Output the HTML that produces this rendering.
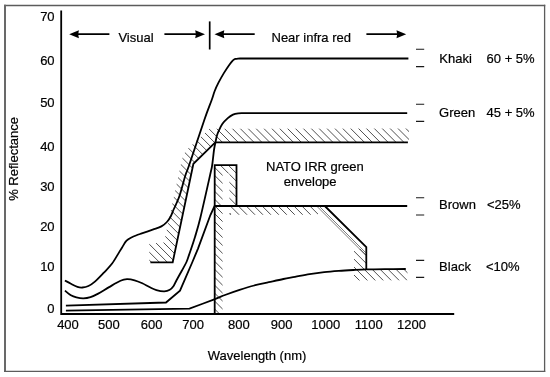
<!DOCTYPE html>
<html><head><meta charset="utf-8"><title>Reflectance chart</title>
<style>html,body{margin:0;padding:0;background:#fff;}svg{display:block;}</style>
</head><body>
<svg width="550" height="377" viewBox="0 0 550 377">
<defs><clipPath id="hc0"><path d="M149.30 262.30 L149.30 243.50 L164.00 242.50 L180.70 165.00 L183.00 156.00 L186.00 150.50 L207.00 131.00 L218.20 142.20 L215.30 142.20 L193.40 163.80 L172.70 262.30 Z"/></clipPath>
<clipPath id="hc1"><path d="M207.00 131.00 L209.40 128.80 L409.00 128.60 L409.00 142.20 L218.20 142.20 Z"/></clipPath>
<clipPath id="hc2"><path d="M215.00 165.00 L222.60 165.00 L222.60 206.00 L215.00 206.00 Z M215.00 165.00 L236.50 165.00 L236.50 173.60 L215.00 173.60 Z M229.40 165.00 L236.50 165.00 L236.50 206.00 L229.40 206.00 Z"/></clipPath>
<clipPath id="hc3"><path d="M215.00 206.00 L222.60 206.00 L222.60 314.00 L215.00 314.00 Z"/></clipPath>
<clipPath id="hc4"><path d="M228.00 206.00 L318.00 206.00 L318.00 214.70 L236.70 214.70 Z"/></clipPath>
<clipPath id="hc5"><path d="M354.00 249.00 L366.00 249.00 L366.00 270.00 L354.00 270.00 Z M354.00 270.00 L407.50 269.00 L407.50 280.20 L354.00 280.60 Z"/></clipPath></defs>
<rect x="0" y="0" width="550" height="377" fill="#fff"/>
<g stroke="#5c5c5c" fill="none">
<line x1="4" y1="5.4" x2="545.25" y2="5.4" stroke-width="1.45"/>
<line x1="5" y1="4.7" x2="5" y2="372" stroke-width="2" stroke="#696969"/>
<line x1="544.6" y1="4.7" x2="544.6" y2="372" stroke-width="1.3"/>
<line x1="4" y1="371.35" x2="545.25" y2="371.35" stroke-width="1.25"/>
</g>

<g stroke="#303030" stroke-width="0.85" fill="none">
<g clip-path="url(#hc0)"><line x1="148.30" y1="60.35" x2="219.20" y2="131.25"/><line x1="148.30" y1="68.30" x2="219.20" y2="139.20"/><line x1="148.30" y1="76.25" x2="219.20" y2="147.15"/><line x1="148.30" y1="84.20" x2="219.20" y2="155.10"/><line x1="148.30" y1="92.15" x2="219.20" y2="163.05"/><line x1="148.30" y1="100.10" x2="219.20" y2="171.00"/><line x1="148.30" y1="108.05" x2="219.20" y2="178.95"/><line x1="148.30" y1="116.00" x2="219.20" y2="186.90"/><line x1="148.30" y1="123.95" x2="219.20" y2="194.85"/><line x1="148.30" y1="131.90" x2="219.20" y2="202.80"/><line x1="148.30" y1="139.85" x2="219.20" y2="210.75"/><line x1="148.30" y1="147.80" x2="219.20" y2="218.70"/><line x1="148.30" y1="155.75" x2="219.20" y2="226.65"/><line x1="148.30" y1="163.70" x2="219.20" y2="234.60"/><line x1="148.30" y1="171.65" x2="219.20" y2="242.55"/><line x1="148.30" y1="179.60" x2="219.20" y2="250.50"/><line x1="148.30" y1="187.55" x2="219.20" y2="258.45"/><line x1="148.30" y1="195.50" x2="219.20" y2="266.40"/><line x1="148.30" y1="203.45" x2="219.20" y2="274.35"/><line x1="148.30" y1="211.40" x2="219.20" y2="282.30"/><line x1="148.30" y1="219.35" x2="219.20" y2="290.25"/><line x1="148.30" y1="227.30" x2="219.20" y2="298.20"/><line x1="148.30" y1="235.25" x2="219.20" y2="306.15"/><line x1="148.30" y1="243.20" x2="219.20" y2="314.10"/><line x1="148.30" y1="251.15" x2="219.20" y2="322.05"/><line x1="148.30" y1="259.10" x2="219.20" y2="330.00"/></g>
<g clip-path="url(#hc1)"><line x1="206.00" y1="-71.37" x2="410.00" y2="132.63"/><line x1="206.00" y1="-63.48" x2="410.00" y2="140.52"/><line x1="206.00" y1="-55.59" x2="410.00" y2="148.41"/><line x1="206.00" y1="-47.70" x2="410.00" y2="156.30"/><line x1="206.00" y1="-39.81" x2="410.00" y2="164.19"/><line x1="206.00" y1="-31.92" x2="410.00" y2="172.08"/><line x1="206.00" y1="-24.03" x2="410.00" y2="179.97"/><line x1="206.00" y1="-16.14" x2="410.00" y2="187.86"/><line x1="206.00" y1="-8.25" x2="410.00" y2="195.75"/><line x1="206.00" y1="-0.36" x2="410.00" y2="203.64"/><line x1="206.00" y1="7.53" x2="410.00" y2="211.53"/><line x1="206.00" y1="15.42" x2="410.00" y2="219.42"/><line x1="206.00" y1="23.31" x2="410.00" y2="227.31"/><line x1="206.00" y1="31.20" x2="410.00" y2="235.20"/><line x1="206.00" y1="39.09" x2="410.00" y2="243.09"/><line x1="206.00" y1="46.98" x2="410.00" y2="250.98"/><line x1="206.00" y1="54.87" x2="410.00" y2="258.87"/><line x1="206.00" y1="62.76" x2="410.00" y2="266.76"/><line x1="206.00" y1="70.65" x2="410.00" y2="274.65"/><line x1="206.00" y1="78.54" x2="410.00" y2="282.54"/><line x1="206.00" y1="86.43" x2="410.00" y2="290.43"/><line x1="206.00" y1="94.32" x2="410.00" y2="298.32"/><line x1="206.00" y1="102.21" x2="410.00" y2="306.21"/><line x1="206.00" y1="110.10" x2="410.00" y2="314.10"/><line x1="206.00" y1="117.99" x2="410.00" y2="321.99"/><line x1="206.00" y1="125.88" x2="410.00" y2="329.88"/><line x1="206.00" y1="133.77" x2="410.00" y2="337.77"/><line x1="206.00" y1="141.66" x2="410.00" y2="345.66"/></g>
<g clip-path="url(#hc2)"><line x1="214.00" y1="142.95" x2="237.50" y2="166.45"/><line x1="214.00" y1="150.90" x2="237.50" y2="174.40"/><line x1="214.00" y1="158.85" x2="237.50" y2="182.35"/><line x1="214.00" y1="166.80" x2="237.50" y2="190.30"/><line x1="214.00" y1="174.75" x2="237.50" y2="198.25"/><line x1="214.00" y1="182.70" x2="237.50" y2="206.20"/><line x1="214.00" y1="190.65" x2="237.50" y2="214.15"/><line x1="214.00" y1="198.60" x2="237.50" y2="222.10"/></g>
<g clip-path="url(#hc3)"><line x1="214.00" y1="197.10" x2="223.60" y2="206.70"/><line x1="214.00" y1="205.05" x2="223.60" y2="214.65"/><line x1="214.00" y1="213.00" x2="223.60" y2="222.60"/><line x1="214.00" y1="220.95" x2="223.60" y2="230.55"/><line x1="214.00" y1="228.90" x2="223.60" y2="238.50"/><line x1="214.00" y1="236.85" x2="223.60" y2="246.45"/><line x1="214.00" y1="244.80" x2="223.60" y2="254.40"/><line x1="214.00" y1="252.75" x2="223.60" y2="262.35"/><line x1="214.00" y1="260.70" x2="223.60" y2="270.30"/><line x1="214.00" y1="268.65" x2="223.60" y2="278.25"/><line x1="214.00" y1="276.60" x2="223.60" y2="286.20"/><line x1="214.00" y1="284.55" x2="223.60" y2="294.15"/><line x1="214.00" y1="292.50" x2="223.60" y2="302.10"/><line x1="214.00" y1="300.45" x2="223.60" y2="310.05"/><line x1="214.00" y1="308.40" x2="223.60" y2="318.00"/></g>
<g clip-path="url(#hc4)"><line x1="227.00" y1="115.20" x2="319.00" y2="207.20"/><line x1="227.00" y1="123.15" x2="319.00" y2="215.15"/><line x1="227.00" y1="131.10" x2="319.00" y2="223.10"/><line x1="227.00" y1="139.05" x2="319.00" y2="231.05"/><line x1="227.00" y1="147.00" x2="319.00" y2="239.00"/><line x1="227.00" y1="154.95" x2="319.00" y2="246.95"/><line x1="227.00" y1="162.90" x2="319.00" y2="254.90"/><line x1="227.00" y1="170.85" x2="319.00" y2="262.85"/><line x1="227.00" y1="178.80" x2="319.00" y2="270.80"/><line x1="227.00" y1="186.75" x2="319.00" y2="278.75"/><line x1="227.00" y1="194.70" x2="319.00" y2="286.70"/><line x1="227.00" y1="202.65" x2="319.00" y2="294.65"/><line x1="227.00" y1="210.60" x2="319.00" y2="302.60"/></g>
<g clip-path="url(#hc5)"><line x1="353.00" y1="194.50" x2="408.50" y2="250.00"/><line x1="353.00" y1="202.45" x2="408.50" y2="257.95"/><line x1="353.00" y1="210.40" x2="408.50" y2="265.90"/><line x1="353.00" y1="218.35" x2="408.50" y2="273.85"/><line x1="353.00" y1="226.30" x2="408.50" y2="281.80"/><line x1="353.00" y1="234.25" x2="408.50" y2="289.75"/><line x1="353.00" y1="242.20" x2="408.50" y2="297.70"/><line x1="353.00" y1="250.15" x2="408.50" y2="305.65"/><line x1="353.00" y1="258.10" x2="408.50" y2="313.60"/><line x1="353.00" y1="266.05" x2="408.50" y2="321.55"/><line x1="353.00" y1="274.00" x2="408.50" y2="329.50"/></g>
</g>
<g stroke="#444" stroke-width="0.7" fill="none">
<line x1="229.6" y1="213.3" x2="230.8" y2="214.5" stroke-width="1.2"/>
<line x1="317.6" y1="207" x2="365.6" y2="255"/>
<line x1="320" y1="207" x2="365.6" y2="252.6"/>
</g>
<g fill="none" stroke="#000" stroke-width="1.8" stroke-linejoin="miter">
<path d="M61.2 10.6 V314 H454.2"/>
<path d="M64.90 280.50 C65.90 281.05 68.82 282.73 70.90 283.80 C72.98 284.87 75.48 286.28 77.40 286.90 C79.32 287.52 80.57 287.65 82.40 287.50 C84.23 287.35 86.32 286.98 88.40 286.00 C90.48 285.02 92.37 283.78 94.90 281.60 C97.43 279.42 100.77 275.87 103.60 272.90 C106.43 269.93 109.30 267.27 111.90 263.80 C114.50 260.33 117.42 254.97 119.20 252.10 C120.98 249.23 121.55 248.30 122.60 246.60 C123.65 244.90 124.60 243.08 125.50 241.90 C126.40 240.72 127.10 240.18 128.00 239.50 C128.90 238.82 129.57 238.47 130.90 237.80 C132.23 237.13 134.18 236.23 136.00 235.50 C137.82 234.77 139.02 234.38 141.80 233.40 C144.58 232.42 149.43 230.77 152.70 229.60 C155.97 228.43 159.03 227.67 161.40 226.40 C163.77 225.13 165.35 223.65 166.90 222.00 C168.45 220.35 169.62 218.50 170.70 216.50 C171.78 214.50 172.52 212.03 173.40 210.00 C174.28 207.97 174.93 206.80 176.00 204.30 C177.07 201.80 178.22 199.88 179.80 195.00 C181.38 190.12 183.93 180.00 185.50 175.00 C187.07 170.00 186.07 174.17 189.20 165.00 C192.33 155.83 200.58 130.75 204.30 120.00 C208.02 109.25 209.77 105.33 211.50 100.50 C213.23 95.67 213.53 93.97 214.70 91.00 C215.87 88.03 216.95 85.72 218.50 82.70 C220.05 79.68 222.18 75.90 224.00 72.90 C225.82 69.90 227.95 66.75 229.40 64.70 C230.85 62.65 231.93 61.45 232.70 60.60 C233.47 59.75 233.55 59.88 234.00 59.60 C234.45 59.33 234.73 59.12 235.40 58.95 C236.07 58.78 237.07 58.62 238.00 58.55 C238.93 58.47 240.50 58.51 241.00 58.50 L408.4 58.5"/>
<path d="M64.90 290.60 C65.90 291.38 68.98 294.17 70.90 295.30 C72.82 296.43 74.32 296.90 76.40 297.40 C78.48 297.90 81.05 298.35 83.40 298.30 C85.75 298.25 88.03 297.88 90.50 297.10 C92.97 296.32 95.10 295.27 98.20 293.60 C101.30 291.93 105.38 289.23 109.10 287.10 C112.82 284.97 117.52 282.12 120.50 280.80 C123.48 279.48 124.65 279.28 127.00 279.20 C129.35 279.12 132.05 279.62 134.60 280.30 C137.15 280.98 139.75 282.13 142.30 283.30 C144.85 284.47 147.55 286.17 149.90 287.30 C152.25 288.43 154.00 289.43 156.40 290.10 C158.80 290.77 162.07 291.35 164.30 291.30 C166.53 291.25 168.25 290.68 169.80 289.80 C171.35 288.92 172.50 287.55 173.60 286.00 C174.70 284.45 175.03 283.05 176.40 280.50 C177.77 277.95 180.12 273.78 181.80 270.70 C183.48 267.62 185.27 264.72 186.50 262.00 C187.73 259.28 187.78 258.58 189.20 254.40 C190.62 250.22 193.15 242.97 195.00 236.90 C196.85 230.83 197.78 228.32 200.30 218.00 C202.82 207.68 208.12 183.83 210.10 175.00 C212.08 166.17 211.55 169.17 212.20 165.00 C212.85 160.83 213.45 153.80 214.00 150.00 C214.55 146.20 215.03 144.53 215.50 142.20 C215.97 139.87 216.32 137.77 216.80 136.00 C217.28 134.23 217.48 133.60 218.40 131.60 C219.32 129.60 220.73 126.25 222.30 124.00 C223.87 121.75 226.02 119.67 227.80 118.10 C229.58 116.53 231.23 115.40 233.00 114.60 C234.77 113.80 236.73 113.54 238.40 113.30 C240.07 113.06 242.23 113.18 243.00 113.15 L407.2 113.15"/>
<path d="M65.90 305.60 L166.00 302.50 L180.00 290.60 L192.40 262.00 L198.00 248.60 L210.40 215.00 L214.60 206.00 L407.20 206.00"/>
<path d="M65.9 310.7 L189.5 308.7 C193.63 307.13 208.38 301.58 214.30 299.30 C220.22 297.02 220.78 296.57 225.00 295.00 C229.22 293.43 234.73 291.48 239.60 289.90 C244.47 288.32 249.33 286.78 254.20 285.50 C259.07 284.22 263.93 283.28 268.80 282.20 C273.67 281.12 279.03 279.88 283.40 279.00 C287.77 278.12 290.63 277.70 295.00 276.90 C299.37 276.10 304.73 274.98 309.60 274.20 C314.47 273.42 319.33 272.75 324.20 272.20 C329.07 271.65 333.93 271.27 338.80 270.90 C343.67 270.53 348.78 270.25 353.40 270.00 C358.02 269.75 361.23 269.55 366.50 269.40 C371.77 269.25 378.45 269.17 385.00 269.10 C391.55 269.03 402.33 269.02 405.80 269.00"/>
<path d="M150.4 262.3 H172.7 L193.4 163.8 L215.3 142.45 H407.9"/>
<path d="M214.7 314 V165.2 H236.5 V206"/>
<path d="M324.8 206 L366.3 247.2 V269.8"/>
<line x1="209.7" y1="21.4" x2="209.7" y2="49.5" stroke-width="1.7"/>
<line x1="75" y1="34.2" x2="109.4" y2="34.2"/>
<line x1="164.4" y1="34.2" x2="198" y2="34.2"/>
<line x1="221" y1="34.2" x2="254.7" y2="34.2"/>
<line x1="366.4" y1="34.2" x2="400" y2="34.2"/>
</g>
<g fill="#000">
<path d="M69.2 34.2 L78.9 30.15 L78.2 34.2 L78.9 38.25 Z"/>
<path d="M205 34.2 L195.2 30.15 L195.9 34.2 L195.2 38.25 Z"/>
<path d="M214.5 34.2 L224.3 30.15 L223.6 34.2 L224.3 38.25 Z"/>
<path d="M406.2 34.2 L396.5 30.15 L397.2 34.2 L396.5 38.25 Z"/>
</g>
<g stroke="#1a1a1a" stroke-width="1.1" fill="none">
<path d="M416 49.3 H424.2 M416 66.6 H424.2 M416 104.3 H424.2 M416 121.4 H424.2 M416 197.8 H424.2 M416 215 H424.2 M416 260.4 H424.2 M416 277.4 H424.2"/>
</g>
<g font-family="'Liberation Sans', Arial, Helvetica, sans-serif" font-size="13" fill="#000" stroke="#000" stroke-width="0.2">
<g text-anchor="end">
<text x="54.6" y="21.4">70</text>
<text x="54.6" y="64.9">60</text>
<text x="54.6" y="107.4">50</text>
<text x="54.6" y="150.8">40</text>
<text x="54.6" y="191.1">30</text>
<text x="54.6" y="231.4">20</text>
<text x="54.6" y="271.0">10</text>
<text x="54.6" y="313.4">0</text>
</g>
<g text-anchor="middle">
<text x="68" y="328.8">400</text>
<text x="108.8" y="328.8">500</text>
<text x="151.6" y="328.8">600</text>
<text x="193.2" y="328.8">700</text>
<text x="238.9" y="328.8">800</text>
<text x="281.6" y="328.8">900</text>
<text x="325.8" y="328.8">1000</text>
<text x="368.7" y="328.8">1100</text>
<text x="411.4" y="328.8">1200</text>
</g>
<text x="118.4" y="41.8">Visual</text>
<text x="271.5" y="41.6">Near infra red</text>
<text x="439.3" y="62.6">Khaki</text>
<text x="486.6" y="62.6">60 + 5%</text>
<text x="439.1" y="116.6">Green</text>
<text x="486.6" y="116.6">45 + 5%</text>
<text x="439.1" y="209.3">Brown</text>
<text x="487" y="209.3">&lt;25%</text>
<text x="439.1" y="271.3">Black</text>
<text x="486" y="271.3">&lt;10%</text>
<text x="266" y="170.8">NATO IRR green</text>
<text x="283.8" y="186.1">envelope</text>
<text x="207.8" y="359.8">Wavelength (nm)</text>
<text transform="translate(17.5 200.8) rotate(-90)">% Reflectance</text>
</g>
</svg>
</body></html>
